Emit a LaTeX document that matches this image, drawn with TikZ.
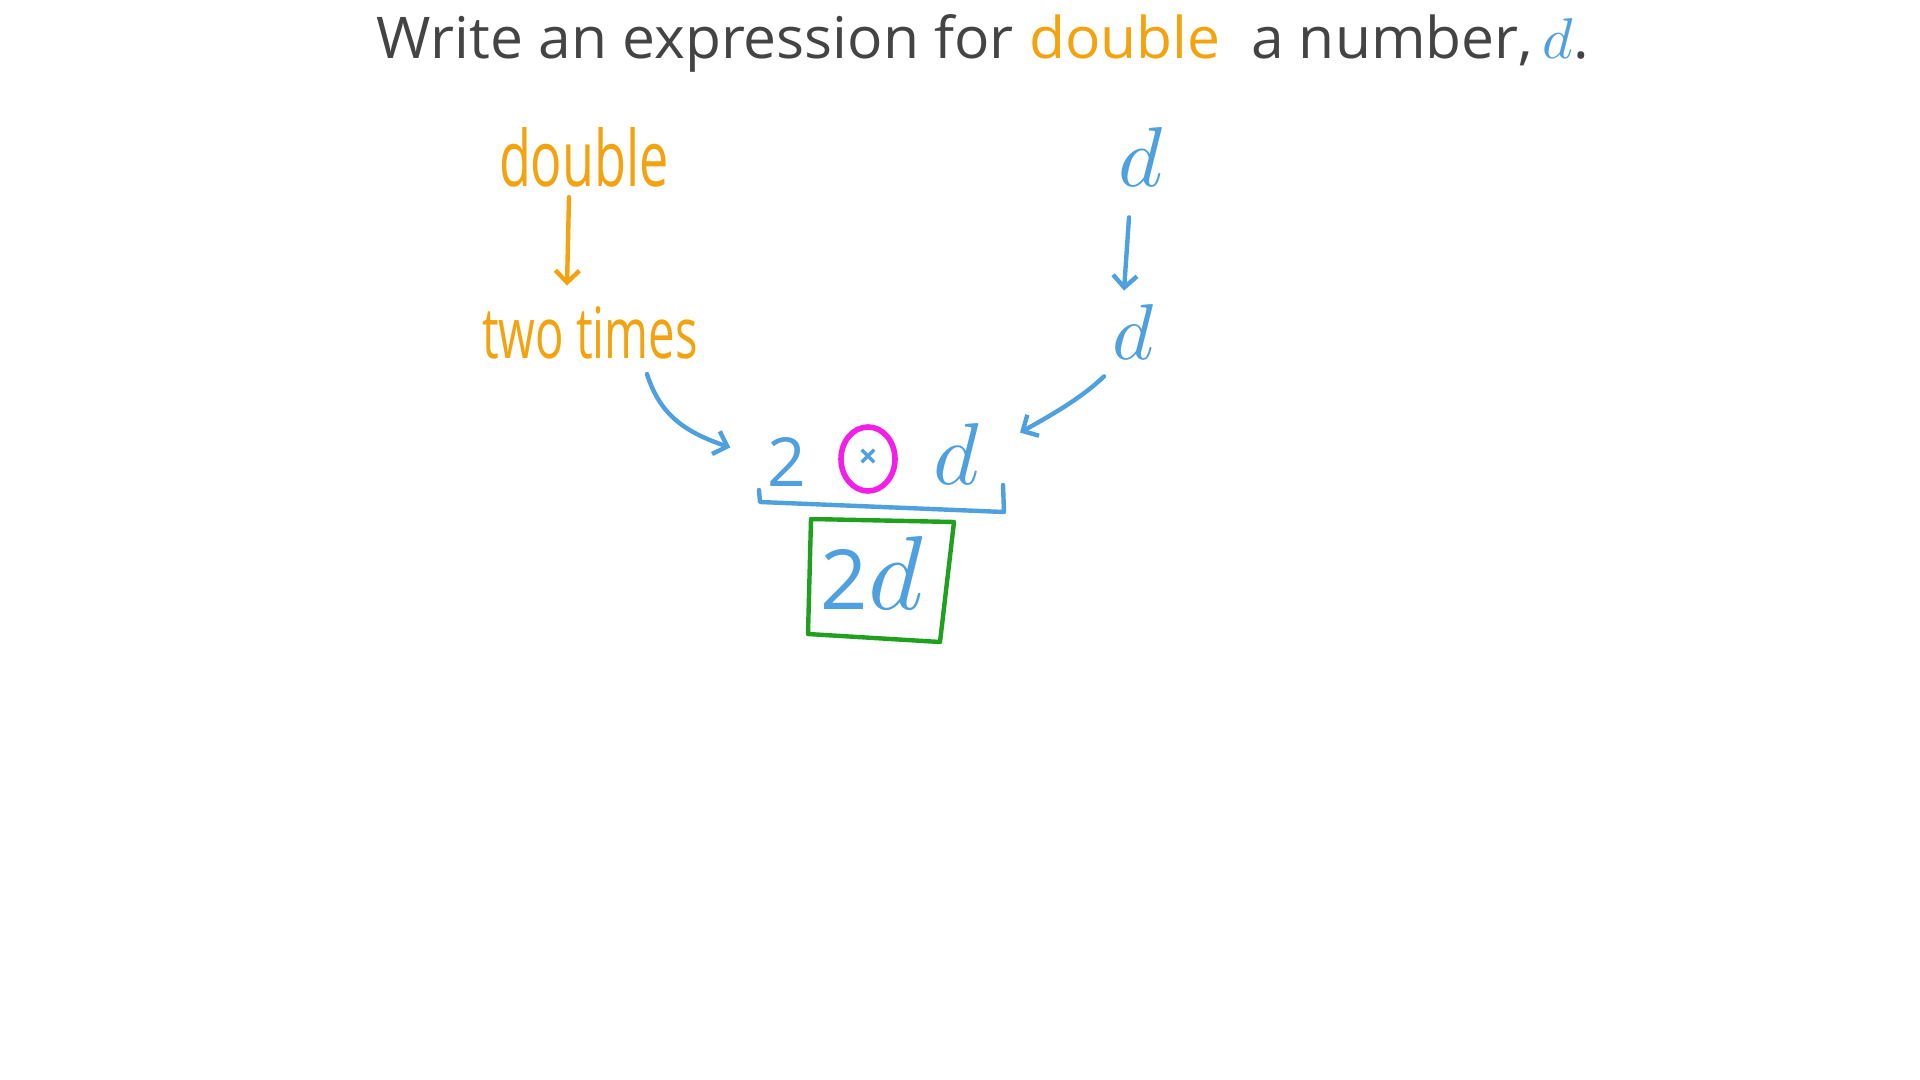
\documentclass[tikz,border=0pt]{standalone}
\usepackage{graphicx}
\usepackage{fontspec}
\newfontfamily\hand{Open Sans}
\usetikzlibrary{arrows.meta,calc,shapes.geometric}
\definecolor{tgray}{HTML}{444444}
\definecolor{horange}{HTML}{F2A30F}
\definecolor{hblue}{HTML}{4EA0DF}
\definecolor{hmag}{HTML}{F21FE6}
\definecolor{hgreen}{HTML}{1FA01F}
\begin{document}
\begin{tikzpicture}[x=0.5pt,y=-0.5pt,
  lbl/.style={inner sep=0pt, anchor=base},
  pen/.style={line width=2.2pt, line cap=round, line join=round},
  arr/.style={pen, -{Straight Barb[length=6pt,width=12pt]}}]
\useasboundingbox[fill=white] (0,0) rectangle (1920,1080);

% title
\node[lbl] (title) at (983,59) {\resizebox{606pt}{22pt}{\hand\color{tgray}Write an expression for \textcolor{horange}{double}\ \ a number,\,\textcolor{hblue}{$d$}.}};

% left column
\node[lbl,text=horange] (double) at (584,187) {\resizebox{85pt}{29.5pt}{\hand double}};
\node[lbl,text=horange] (twotimes) at (590,359) {\resizebox{108pt}{26pt}{\hand two times}};

% right column
\node[lbl,text=hblue] (d1) at (1141,187) {\resizebox{!}{29.5pt}{$d$}};
\node[lbl,text=hblue] (d2) at (1133,359) {\resizebox{!}{27.5pt}{$d$}};

% expression
\node[lbl,text=hblue] (two) at (787,486) {\resizebox{!}{24.5pt}{\hand 2}};
\node[ellipse, draw=hmag, line width=2.8pt, minimum width=27pt, minimum height=32pt, inner sep=0pt, text=hblue] (times) at (868,459) {\fontsize{17}{17}\selectfont\hand\bfseries ×};
\node[lbl,text=hblue] (dx) at (956,484) {\resizebox{!}{30.5pt}{$d$}};

% result
\node[lbl,text=hblue] (res) at (872,609) {\resizebox{!}{30pt}{\hand 2}\resizebox{!}{36.5pt}{$d$}};

% arrows
\draw[arr,horange] ($(double.south)+(-15,9)$) -- ($(twotimes.north)+(-23,-21)$);
\draw[arr,hblue] ($(d1.south)+(-12,30)$) -- ($(d2.north)+(-9,-13)$);
\draw[arr,hblue] ($(twotimes.south)+(57,14)$) .. controls ($(twotimes.south)+(70,55)$) and ($(twotimes.south)+(95,72)$) .. ($(two.west)+(-37,-14)$);
\draw[arr,hblue] ($(d2.south)+(-29,17)$) .. controls ($(d2.south)+(-50,37)$) and ($(d2.south)+(-75,52)$) .. ($(dx.north)+(64,10)$);

% bracket
\draw[pen,hblue] (759,490) -- (760,502) -- (1004,512) -- (1003,485);

% answer box
\draw[pen,hgreen] (811,519) -- (954,522) -- (940,642) -- (808,634) -- cycle;
\end{tikzpicture}
\end{document}
